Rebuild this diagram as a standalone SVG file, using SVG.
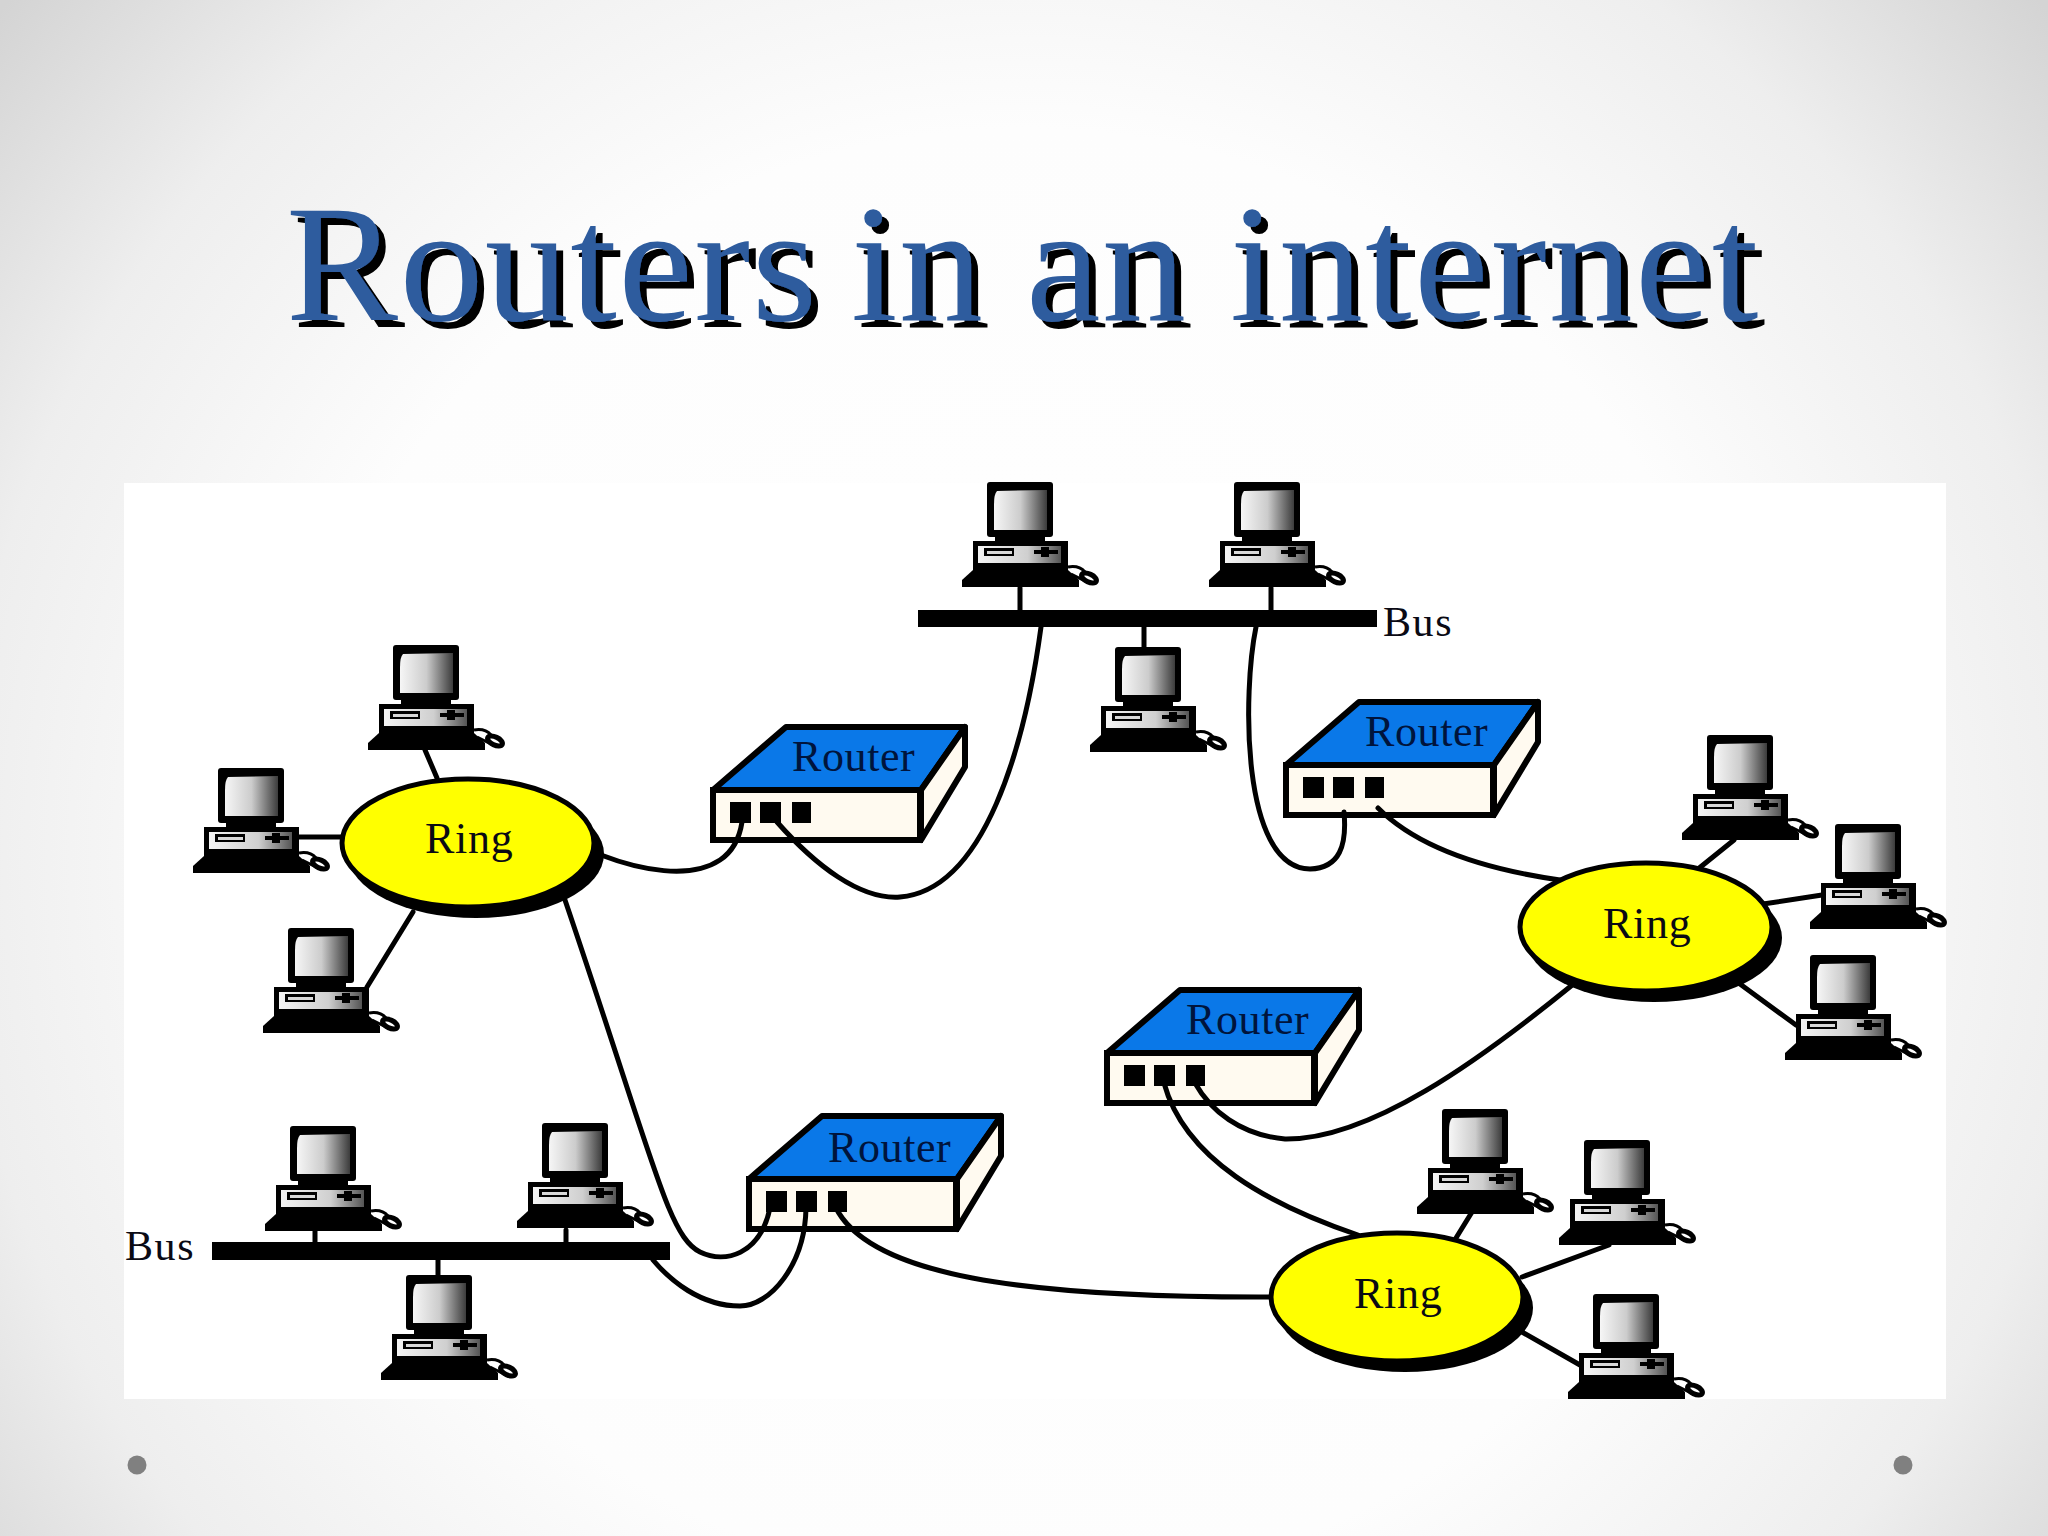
<svg xmlns="http://www.w3.org/2000/svg" width="2048" height="1536" viewBox="0 0 2048 1536">
<style>
.k{fill:#000}
.w{fill:none;stroke:#000;stroke-width:5;stroke-linecap:round}
.ringshade{fill:#000}
.ring{fill:#ffff00;stroke:#000;stroke-width:5}
.lbl{font-family:"Liberation Serif","Times New Roman",serif;font-size:44px;fill:#0a0a14;letter-spacing:0.7px}
.bus{font-size:42px;letter-spacing:1.6px}
.rt{font-family:"Liberation Serif","Times New Roman",serif;font-size:44px;fill:#00143c;letter-spacing:0.6px}
.title{font-family:"Liberation Serif","Times New Roman",serif;font-size:168px;letter-spacing:1.4px;fill:#2f5c9e}
.dot{fill:#808080}
</style>
<defs>
<filter id="tshadow" x="-5%" y="-20%" width="110%" height="140%">
<feDropShadow dx="7" dy="7" stdDeviation="0" flood-color="#000"/>
</filter>
<radialGradient id="bg" gradientUnits="userSpaceOnUse" cx="1024" cy="860" r="1330">
<stop offset="0" stop-color="#ffffff"/><stop offset="0.55" stop-color="#fdfdfd"/><stop offset="0.8" stop-color="#eeeeee"/><stop offset="1" stop-color="#d4d4d4"/>
</radialGradient>
<linearGradient id="scr" x1="0" x2="1" y1="0" y2="0"><stop offset="0" stop-color="#f6f6f6"/><stop offset="0.5" stop-color="#cccccc"/><stop offset="1" stop-color="#3c3c3c"/></linearGradient>
<linearGradient id="unit" x1="0" x2="1" y1="0" y2="0"><stop offset="0" stop-color="#f4f4f4"/><stop offset="0.6" stop-color="#cfcfcf"/><stop offset="1" stop-color="#555"/></linearGradient>
<g id="pc">
<rect class="k" x="0" y="0" width="66" height="55" rx="3"/>
<path d="M10,9 L60,8 L60,48 L7,48 L7,22 Q7,12 10,9Z" fill="url(#scr)"/>
<rect class="k" x="8" y="55" width="50" height="5"/>
<rect class="k" x="-14" y="59" width="95" height="30"/>
<rect x="-9" y="64" width="83" height="17" fill="url(#unit)"/>
<rect class="k" x="-3" y="66" width="30" height="8"/>
<rect x="0" y="69" width="25" height="3" fill="#d8d8d8"/>
<rect class="k" x="47" y="68" width="24" height="4"/><rect class="k" x="54" y="65" width="8" height="10"/>
<path class="k" d="M-25,105V98L-14,88H81L92,98V105Z"/>
<path d="M81,85 Q92,83 98,90" fill="none" stroke="#000" stroke-width="3"/>
<ellipse cx="102" cy="96" rx="8" ry="4" transform="rotate(25 102 96)" fill="#fff" stroke="#000" stroke-width="5"/>
<path d="M84,92 L100,100" stroke="#000" stroke-width="3"/>
</g>
<g id="rtr">
<path d="M0,0 L73,-63 H252 L208,0Z" fill="#0a78e8" stroke="#000" stroke-width="6" stroke-linejoin="round"/>
<path d="M208,0 L252,-63 V-23 L208,50Z" fill="#fffaf0" stroke="#000" stroke-width="6" stroke-linejoin="round"/>
<rect x="0" y="0" width="207" height="50" fill="#fffaf0" stroke="#000" stroke-width="6"/>
<rect class="k" x="17" y="12" width="21" height="21"/>
<rect class="k" x="47" y="12" width="21" height="21"/>
<rect class="k" x="79" y="12" width="19" height="21"/>
</g>
</defs>
<rect id="background" width="2048" height="1536" fill="url(#bg)"/>
<g id="title" class="title" filter="url(#tshadow)">
<text y="320"><tspan x="286">Routers</tspan> <tspan x="851">in</tspan> <tspan x="1026">an</tspan> <tspan x="1230" style="letter-spacing:2.2px">internet</tspan></text>
</g>
<rect id="panel" x="124" y="483" width="1822" height="916" fill="#fff"/>
<circle class="dot" cx="137" cy="1465" r="9.5"/>
<circle class="dot" cx="1903" cy="1465" r="9.5"/>

<g id="router-1" transform="translate(713,790)"><use href="#rtr"/><text class="rt" x="79" y="-19">Router</text></g>
<g id="router-2" transform="translate(1286,765)"><use href="#rtr"/><text class="rt" x="79" y="-19">Router</text></g>
<g id="router-3" transform="translate(1107,1053)"><use href="#rtr"/><text class="rt" x="79" y="-19">Router</text></g>
<g id="router-4" transform="translate(749,1179)"><use href="#rtr"/><text class="rt" x="79" y="-17">Router</text></g>

<g id="connectors">
<path class="w" d="M601,855 C640,870 690,880 720,860 C735,850 740,835 742,822"/>
<path class="w" d="M777,822 C815,865 860,900 900,897 C985,890 1025,745 1041,627"/>
<path class="w" d="M1256,627 C1243,690 1240,868 1310,869 C1340,868 1347,845 1344,812"/>
<path class="w" d="M1378,808 C1420,850 1490,870 1560,880"/>
<path class="w" d="M1571,986 C1480,1060 1370,1140 1285,1139 C1240,1135 1210,1110 1195,1083"/>
<path class="w" d="M1164,1083 C1185,1160 1270,1205 1358,1235"/>
<path class="w" d="M836,1208 C870,1275 1020,1298 1273,1297"/>
<path class="w" d="M806,1208 C805,1265 770,1306 740,1306 C700,1306 670,1280 653,1260"/>
<path class="w" d="M770,1208 C760,1255 725,1264 700,1252 C668,1236 655,1165 565,900"/>
<path class="w" d="M425,750 L437,778M298,837 H343M413,912 L367,987"/>
<path class="w" d="M1698,869 L1734,840M1763,904 L1822,895M1740,984 L1796,1025"/>
<path class="w" d="M1456,1238 L1472,1212M1522,1277 L1609,1245M1522,1332 L1580,1365"/>
<path class="w" d="M1020,588 V610M1271,588 V610M1144,627 V647"/>
<path class="w" d="M315,1230 V1242M566,1230 V1242M438,1260 V1275"/>
</g>

<g id="bus-top"><rect class="k" x="918" y="610" width="459" height="17"/><text class="lbl bus" x="1383" y="636">Bus</text></g>
<g id="bus-bottom"><rect class="k" x="212" y="1242" width="458" height="18"/><text class="lbl bus" x="125" y="1260">Bus</text></g>

<g id="ring-1"><ellipse class="ringshade" cx="476" cy="854" rx="128" ry="64"/><ellipse class="ring" cx="468" cy="843" rx="126" ry="64"/><text class="lbl" x="425" y="853">Ring</text></g>
<g id="ring-2"><ellipse class="ringshade" cx="1654" cy="938" rx="128" ry="64"/><ellipse class="ring" cx="1646" cy="927" rx="126" ry="64"/><text class="lbl" x="1603" y="938">Ring</text></g>
<g id="ring-3"><ellipse class="ringshade" cx="1405" cy="1308" rx="128" ry="64"/><ellipse class="ring" cx="1397" cy="1297" rx="126" ry="64"/><text class="lbl" x="1354" y="1308">Ring</text></g>

<g id="pc-1"><use href="#pc" x="393" y="645"/></g>
<g id="pc-2"><use href="#pc" x="218" y="768"/></g>
<g id="pc-3"><use href="#pc" x="288" y="928"/></g>
<g id="pc-4"><use href="#pc" x="987" y="482"/></g>
<g id="pc-5"><use href="#pc" x="1234" y="482"/></g>
<g id="pc-6"><use href="#pc" x="1115" y="647"/></g>
<g id="pc-7"><use href="#pc" x="1707" y="735"/></g>
<g id="pc-8"><use href="#pc" x="1835" y="824"/></g>
<g id="pc-9"><use href="#pc" x="1810" y="955"/></g>
<g id="pc-10"><use href="#pc" x="1442" y="1109"/></g>
<g id="pc-11"><use href="#pc" x="1584" y="1140"/></g>
<g id="pc-12"><use href="#pc" x="1593" y="1294"/></g>
<g id="pc-13"><use href="#pc" x="290" y="1126"/></g>
<g id="pc-14"><use href="#pc" x="542" y="1123"/></g>
<g id="pc-15"><use href="#pc" x="406" y="1275"/></g>
</svg>
